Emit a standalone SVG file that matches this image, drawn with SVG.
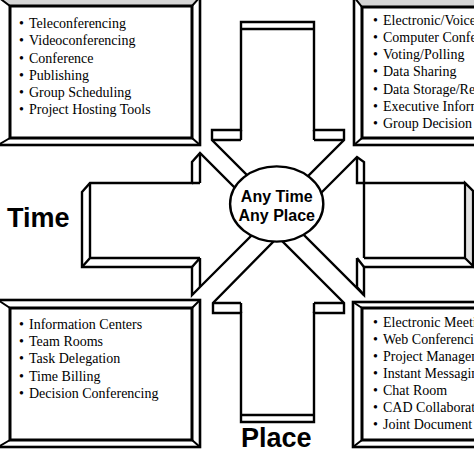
<svg xmlns="http://www.w3.org/2000/svg" width="474" height="454" viewBox="0 0 474 454">
<style>
.bg{fill:#fff}
.face{fill:#fff;stroke:#000;stroke-width:2.4;stroke-linejoin:miter}
.ln{fill:none;stroke:#000;stroke-width:2.4;stroke-linejoin:miter}
.side{fill:#e2e2e2;stroke:#000;stroke-width:2.2}
.outer{fill:#fff;stroke:#000;stroke-width:2.6}
.topface{fill:#d6d6d6;stroke:#000;stroke-width:2}
.inner{fill:#fff;stroke:#000;stroke-width:3}
.bev{fill:none;stroke:#000;stroke-width:2}
.item{font-family:"Liberation Serif","Times New Roman",serif;font-size:14px;fill:#000}
.big{font-family:"Liberation Sans",Arial,sans-serif;font-weight:bold;fill:#000}
</style>
<rect class="bg" x="0" y="0" width="474" height="454"/>

<g id="connectors">
  <!-- top arrow (pointing down) -->
  <polygon class="face" points="241,22 314,22 314,130 344,130 344,140 278,206 212,140 212,130 241,130"/>
  <path class="ln" d="M241,29H314 M212,140H241 M314,140H344 M241,130V140 M314,130V140"/>
  <!-- bottom arrow (pointing up) -->
  <polygon class="face" points="241,422 314,422 314,313 344,313 344,303 278,237 213,303 213,313 241,313"/>
  <path class="ln" d="M241,415H314 M213,303H241 M314,303H344 M241,303V313 M314,303V313"/>
  <!-- left arrow (pointing right) -->
  <polygon class="face" points="82,192 90,183 192,183 192,162 200,153 267,220 200,287 192,295 192,267 82,267"/>
  <path class="ln" d="M90,183V258H200 M82,267L90,258 M200,153V183 M192,183H200 M200,258V287 M192,267L200,258"/>
  <!-- right arrow (pointing left) -->
  <polygon class="face" points="291.5,222.5 357,157 364,162 364,183 465,183 473,191 473,267 364,267 364,295"/>
  <polygon class="side" points="465,183 473,191 473,266 465,258"/>
  <path class="ln" d="M357,157V183H364 M364,258H465 M357,258V287L364,295 M357,258L364,267 M364,183V258"/>
</g>

<g id="hub">
  <ellipse class="face" cx="276.7" cy="204" rx="46.6" ry="37.6"/>
  <text class="big" x="276.7" y="201.5" font-size="16" text-anchor="middle">Any Time</text>
  <text class="big" x="276.7" y="220.5" font-size="16" text-anchor="middle">Any Place</text>
</g>

<g id="label-time">
  <text class="big" x="7" y="227" font-size="27">Time</text>
</g>
<g id="label-place">
  <text class="big" x="241" y="446.5" font-size="27">Place</text>
</g>

<g id="box-top-left">
  <rect class="outer" x="-2" y="-3" width="202" height="148"/>
  <polygon class="topface" points="-2,-3 200,-3 192,6 10,6"/>
  <rect class="inner" x="10" y="6" width="182" height="132"/>
  <path class="bev" d="M-2,145L10,138 M200,145L192,138"/>
  <text class="item" x="19" y="28.3">•<tspan x="29">Teleconferencing</tspan></text>
  <text class="item" x="19" y="45.4">•<tspan x="29">Videoconferencing</tspan></text>
  <text class="item" x="19" y="62.5">•<tspan x="29">Conference</tspan></text>
  <text class="item" x="19" y="79.6">•<tspan x="29">Publishing</tspan></text>
  <text class="item" x="19" y="96.7">•<tspan x="29">Group Scheduling</tspan></text>
  <text class="item" x="19" y="113.8">•<tspan x="29">Project Hosting Tools</tspan></text>
</g>

<g id="box-top-right">
  <rect class="outer" x="354" y="-3" width="130" height="148"/>
  <polygon class="topface" points="354,-3 484,-3 484,7 362,7"/>
  <rect class="inner" x="362" y="7" width="122" height="131"/>
  <path class="bev" d="M354,145L362,138"/>
  <text class="item" x="373" y="25.2">•<tspan x="383">Electronic/Voice</tspan></text>
  <text class="item" x="373" y="42.3">•<tspan x="383">Computer Confe</tspan></text>
  <text class="item" x="373" y="59.3">•<tspan x="383">Voting/Polling</tspan></text>
  <text class="item" x="373" y="76.4">•<tspan x="383">Data Sharing</tspan></text>
  <text class="item" x="373" y="93.5">•<tspan x="383">Data Storage/Re</tspan></text>
  <text class="item" x="373" y="110.6">•<tspan x="383">Executive Inform</tspan></text>
  <text class="item" x="373" y="127.7">•<tspan x="383">Group Decision</tspan></text>
</g>

<g id="box-bottom-left">
  <rect class="outer" x="-2" y="300" width="202" height="147"/>
  <rect class="inner" x="10" y="308" width="182" height="132"/>
  <path class="bev" d="M-2,300L10,308 M200,300L192,308 M-2,447L10,440 M200,447L192,440"/>
  <text class="item" x="19" y="329">•<tspan x="29">Information Centers</tspan></text>
  <text class="item" x="19" y="346.2">•<tspan x="29">Team Rooms</tspan></text>
  <text class="item" x="19" y="363.4">•<tspan x="29">Task Delegation</tspan></text>
  <text class="item" x="19" y="380.6">•<tspan x="29">Time Billing</tspan></text>
  <text class="item" x="19" y="397.8">•<tspan x="29">Decision Conferencing</tspan></text>
</g>

<g id="box-bottom-right">
  <rect class="outer" x="353" y="302" width="131" height="145"/>
  <rect class="inner" x="362" y="308" width="122" height="132"/>
  <path class="bev" d="M353,302L362,308 M353,447L362,440"/>
  <text class="item" x="373" y="326.7">•<tspan x="383">Electronic Meeti</tspan></text>
  <text class="item" x="373" y="343.7">•<tspan x="383">Web Conferenci</tspan></text>
  <text class="item" x="373" y="360.7">•<tspan x="383">Project Managem</tspan></text>
  <text class="item" x="373" y="377.7">•<tspan x="383">Instant Messagin</tspan></text>
  <text class="item" x="373" y="394.7">•<tspan x="383">Chat Room</tspan></text>
  <text class="item" x="373" y="411.7">•<tspan x="383">CAD Collaborat</tspan></text>
  <text class="item" x="373" y="428.7">•<tspan x="383">Joint Document</tspan></text>
</g>
</svg>
